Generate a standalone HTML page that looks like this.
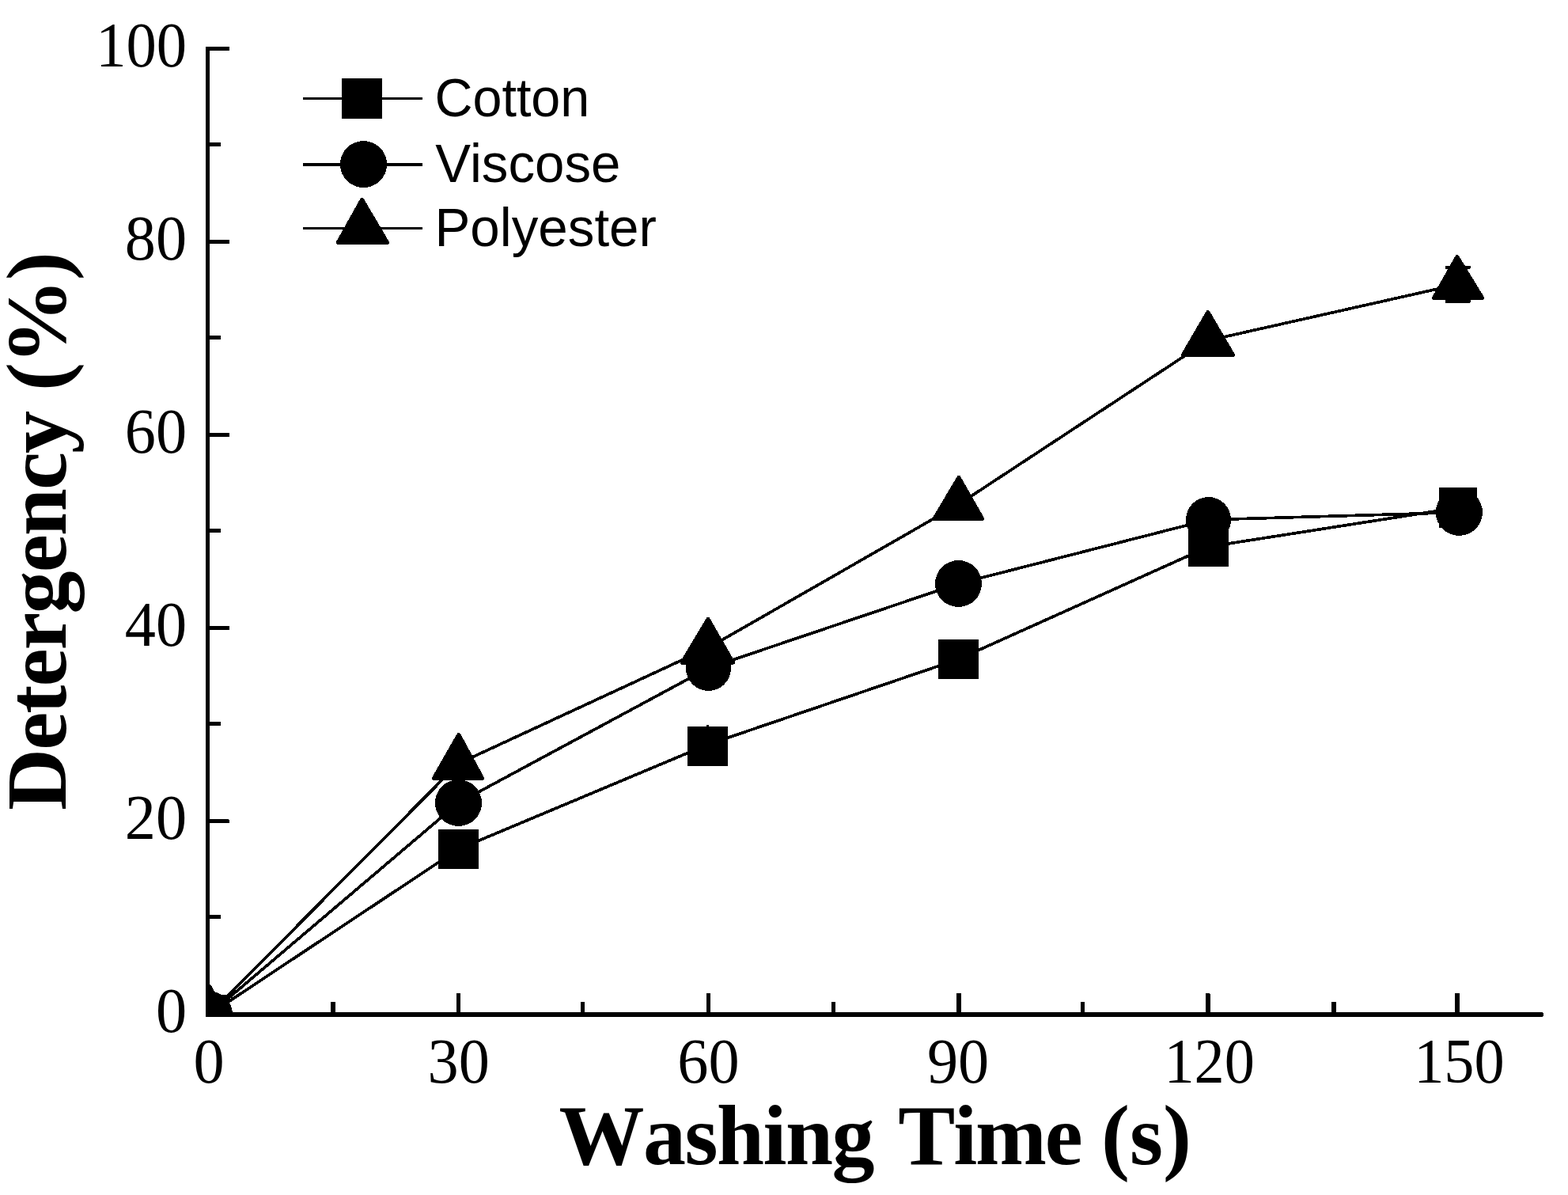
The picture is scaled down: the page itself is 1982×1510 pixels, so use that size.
<!DOCTYPE html>
<html lang="en">
<head>
<meta charset="utf-8">
<title>Detergency vs Washing Time</title>
<style>
html,body{margin:0;padding:0;background:#fff;}
body{width:1982px;height:1510px;overflow:hidden;}
svg{display:block;}
.tk{font-family:"Liberation Serif","DejaVu Serif",serif;font-size:78.3px;fill:#000;}
.lg{font-family:"Liberation Sans","DejaVu Sans",sans-serif;font-size:68px;fill:#000;}
.ti{font-family:"Liberation Serif","DejaVu Serif",serif;font-weight:bold;font-size:108px;font-kerning:none;fill:#000;}
</style>
</head>
<body>
<svg width="1982" height="1510" viewBox="0 0 1982 1510">
<rect width="1982" height="1510" fill="#fff"/>
<g fill="#000" shape-rendering="crispEdges">
<svg x="260" y="0" width="1722" height="1284.8" viewBox="260 0 1722 1284.8" overflow="hidden">
<polyline points="264.4,1282.0 579.5,1073.0 894.5,940.9 1211.5,833.0 1527.5,690.9 1843.0,641.5" fill="none" stroke="#000" stroke-width="3.7" stroke-linejoin="round"/>
<polyline points="264.4,1282.0 579.5,1014.5 895.5,844.2 1211.5,737.5 1527.5,656.8 1844.4,647.5" fill="none" stroke="#000" stroke-width="3.7" stroke-linejoin="round"/>
<polyline points="264.4,1282.0 579.2,965.0 895.0,818.8 1211.9,637.2 1527.0,430.3 1842.0,359.5" fill="none" stroke="#000" stroke-width="3.7" stroke-linejoin="round"/>
<path d="M1828.9 338H1857M1828.9 381H1857" stroke="#000" stroke-width="4" stroke-linecap="round" fill="none"/>
<path d="M894.5 917.5v2" stroke="#000" stroke-width="3" stroke-linecap="round" fill="none"/>
<rect x="238.9" y="1257.0" width="51" height="50"/>
<rect x="554.0" y="1048.0" width="51" height="50"/>
<rect x="869.0" y="918.0" width="51" height="50"/>
<rect x="1186.0" y="808.0" width="51" height="50"/>
<rect x="1502.0" y="665.9" width="51" height="50"/>
<rect x="1819.0" y="616.0" width="48" height="51"/>
<ellipse cx="264.5" cy="1282.0" rx="29.5" ry="29.5"/>
<ellipse cx="579.5" cy="1014.5" rx="29.55" ry="29.5"/>
<ellipse cx="895.5" cy="844.2" rx="28.5" ry="28.8"/>
<ellipse cx="1211.5" cy="737.5" rx="29.5" ry="29.5"/>
<ellipse cx="1527.5" cy="656.8" rx="28.5" ry="28.8"/>
<ellipse cx="1844.4" cy="647.4" rx="29.6" ry="29.5"/>
<path d="M264.4 1245.9L295.1 1299.7L233.7 1299.7Z" stroke="#000" stroke-width="5.0" stroke-linejoin="round"/>
<path d="M579.9 928.4L609.5 983.3L548.4 983.3Z" stroke="#000" stroke-width="5.0" stroke-linejoin="round"/>
<path d="M895.0 782.4L926.6 837.2L862.1 837.2Z" stroke="#000" stroke-width="5.0" stroke-linejoin="round"/>
<path d="M1211.9 603.4L1241.6 655.4L1181.1 655.4Z" stroke="#000" stroke-width="5.0" stroke-linejoin="round"/>
<path d="M1526.9 394.5L1558.4 448.3L1495.5 448.3Z" stroke="#000" stroke-width="5.0" stroke-linejoin="round"/>
<path d="M1841.9 324.5L1873.6 376.4L1812.5 376.4Z" stroke="#000" stroke-width="5.0" stroke-linejoin="round"/>
</svg>
<rect x="260" y="59" width="5" height="1225.8"/>
<rect x="260" y="1279.1" width="1690.6" height="5.7" rx="1.5"/>
<rect x="262" y="1279.4" width="28.2" height="5.0" rx="1.2"/>
<rect x="262" y="1156.2" width="17.0" height="5.0" rx="1.2"/>
<rect x="262" y="1035.4" width="28.2" height="5.0" rx="1.2"/>
<rect x="262" y="912.1" width="17.0" height="5.0" rx="1.2"/>
<rect x="262" y="791.3" width="28.2" height="5.0" rx="1.2"/>
<rect x="262" y="668.1" width="17.0" height="5.0" rx="1.2"/>
<rect x="262" y="547.2" width="28.2" height="5.0" rx="1.2"/>
<rect x="262" y="424.0" width="17.0" height="5.0" rx="1.2"/>
<rect x="262" y="303.2" width="28.2" height="5.0" rx="1.2"/>
<rect x="262" y="180.0" width="17.0" height="5.0" rx="1.2"/>
<rect x="262" y="59.2" width="28.2" height="5.0" rx="1.2"/>
<rect x="418" y="1266.0" width="6" height="16.0" rx="1.2"/>
<rect x="577" y="1255.2" width="5" height="26.8" rx="1.2"/>
<rect x="734" y="1266.0" width="5" height="16.0" rx="1.2"/>
<rect x="893" y="1255.2" width="5" height="26.8" rx="1.2"/>
<rect x="1051" y="1266.0" width="5" height="16.0" rx="1.2"/>
<rect x="1209" y="1255.2" width="6" height="26.8" rx="1.2"/>
<rect x="1366" y="1266.0" width="5" height="16.0" rx="1.2"/>
<rect x="1524" y="1255.2" width="5.5" height="26.8" rx="1.2"/>
<rect x="1683" y="1266.0" width="6" height="16.0" rx="1.2"/>
<rect x="1839" y="1255.2" width="6" height="26.8" rx="1.2"/>
<text class="tk" transform="translate(236.1 1304.4) scale(1 1.02)" text-anchor="end">0</text>
<text class="tk" transform="translate(236.1 1060.4) scale(1 1.02)" text-anchor="end">20</text>
<text class="tk" transform="translate(236.1 816.3) scale(1 1.02)" text-anchor="end">40</text>
<text class="tk" transform="translate(236.1 572.2) scale(1 1.02)" text-anchor="end">60</text>
<text class="tk" transform="translate(236.1 328.2) scale(1 1.02)" text-anchor="end">80</text>
<text class="tk" transform="translate(236.0 84.2) scale(0.978 1.02)" text-anchor="end">100</text>
<text class="tk" transform="translate(264.0 1367.9) scale(1 1.02)" text-anchor="middle">0</text>
<text class="tk" transform="translate(579.7 1367.9) scale(1 1.02)" text-anchor="middle">30</text>
<text class="tk" transform="translate(895.4 1367.9) scale(1 1.02)" text-anchor="middle">60</text>
<text class="tk" transform="translate(1211.1 1367.9) scale(1 1.02)" text-anchor="middle">90</text>
<text class="tk" transform="translate(1528.7 1367.9) scale(0.975 1.02)" text-anchor="middle">120</text>
<text class="tk" transform="translate(1844.4 1367.9) scale(0.975 1.02)" text-anchor="middle">150</text>
<path d="M384.5 124.5H532.5" stroke="#000" stroke-width="3.2" stroke-linecap="round" fill="none"/>
<path d="M384.5 208H532.5" stroke="#000" stroke-width="3.8" stroke-linecap="round" fill="none"/>
<path d="M384.5 288.4H532.5" stroke="#000" stroke-width="3.2" stroke-linecap="round" fill="none"/>
<rect x="432.0" y="98.9" width="51" height="51"/>
<ellipse cx="459.5" cy="207.6" rx="29.6" ry="29.5"/>
<path d="M457.6 252.3L489.5 306.4L427.3 306.4Z" stroke="#000" stroke-width="5.0" stroke-linejoin="round"/>
<text class="lg" transform="translate(549.4 147.1) scale(0.978 1.015)">Cotton</text>
<text class="lg" transform="translate(550.3 230.1) scale(0.9886 1.015)">Viscose</text>
<text class="lg" transform="translate(549.4 311.0) scale(0.99 1.015)">Polyester</text>
<text class="ti" y="1471.1"><tspan x="706.5" letter-spacing="-1.53">Washing</tspan> <tspan x="1135.3" letter-spacing="-2.2">Time</tspan> <tspan x="1392">(s)</tspan></text>
<text class="ti" transform="translate(83 0) rotate(-90)"><tspan x="-1023.9" letter-spacing="-1.86">Detergency</tspan> <tspan x="-493.9" letter-spacing="-2.2">(%)</tspan></text>
</g>
</svg>
</body>
</html>
